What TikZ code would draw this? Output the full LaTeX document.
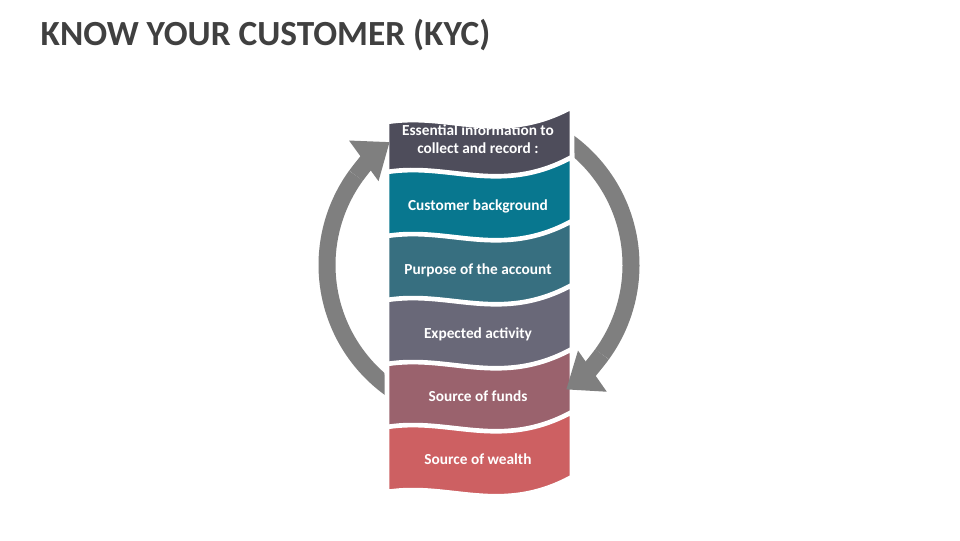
\documentclass[tikz,border=0pt]{standalone}
\usepackage{fontspec}
\setmainfont{Carlito}
\usetikzlibrary{arrows.meta}
\definecolor{cA}{HTML}{4E4D5B}
\definecolor{cB}{HTML}{08778F}
\definecolor{cC}{HTML}{376F80}
\definecolor{cD}{HTML}{696878}
\definecolor{cE}{HTML}{9A626D}
\definecolor{cF}{HTML}{CD6062}
\definecolor{arr}{HTML}{7F7F7F}
\definecolor{ttl}{HTML}{404040}
\newcommand\kycband[3]{\fill[#3,draw=white,line width=3.5pt] (387,#1) .. controls (450,#1+10) and (500,#1-24) .. (572,#1+15) -- (572,#2+15) .. controls (500,#2-24) and (450,#2+10) .. (387,#2) -- cycle;}
\tikzset{lbl/.style={text=white,font=\bfseries\fontsize{11.5}{14}\selectfont,align=center},
arcbody/.style={draw=arr,line width=12.75pt},
arc/.style={draw=arr,line width=12.75pt,-{Triangle[length=24pt,width=36pt]}}}
\begin{document}
\begin{tikzpicture}[x=0.75pt,y=0.75pt]
\useasboundingbox[fill=white] (0,0) rectangle (960,540);
\node[anchor=west,text=ttl,font=\bfseries\fontsize{26.5}{30}\selectfont] (title) at (36,505) {KNOW YOUR CUSTOMER (KYC)};
\coordinate (C) at (479,275);
\draw[arcbody] ([shift={(62:114pt)}]C) arc[start angle=62,end angle=-36,radius=114pt];
\draw[arcbody] ([shift={(240:114pt)}]C) arc[start angle=240,end angle=144,radius=114pt];
\kycband{418}{360}{cA}
\kycband{368}{296}{cB}
\kycband{304}{232}{cC}
\kycband{240}{168}{cD}
\kycband{176}{105}{cE}
\kycband{113}{48}{cF}
\draw[arc] ([shift={(-36:114pt)}]C) arc[start angle=-36,end angle=-55,radius=114pt];
\draw[arc] ([shift={(144:114pt)}]C) arc[start angle=144,end angle=126,radius=114pt];
\node[lbl,font=\bfseries\fontsize{11.5}{14}\selectfont] (t1) at (478,401) {Essential information to\\collect and record :};
\node[lbl] (t2) at (478,334) {Customer background};
\node[lbl] (t3) at (478,270) {Purpose of the account};
\node[lbl] (t4) at (478,206) {Expected activity};
\node[lbl] (t5) at (478,144) {Source of funds};
\node[lbl] (t6) at (478,81) {Source of wealth};
\end{tikzpicture}
\end{document}
